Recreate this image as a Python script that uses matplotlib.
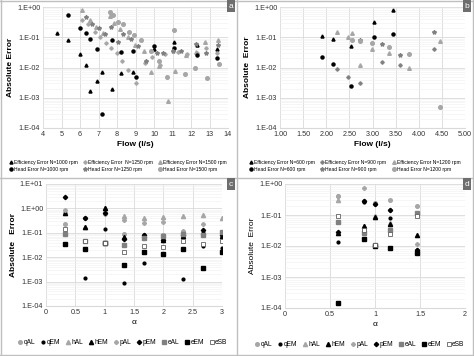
"""Four-panel absolute error scatter charts (log scale)."""

import matplotlib
matplotlib.use("Agg")
import matplotlib.pyplot as plt
import numpy as np
from matplotlib.lines import Line2D
from matplotlib.ticker import FixedLocator, FuncFormatter, NullFormatter

plt.rcParams["font.family"] = ["Liberation Sans", "DejaVu Sans"]

# ---- panel a: flow vs error, N = 1000 / 1250 / 1500 rpm
eff1000_q = [4.75, 5.35, 6.0, 6.3, 6.55, 6.9, 7.2, 7.75, 8.2, 8.85, 10.0, 11.1, 12.3, 13.4]
eff1000_e = [0.14, 0.08, 0.029, 0.012, 0.0017, 0.0035, 0.007, 0.0019, 0.0065, 0.007, 0.04, 0.07, 0.055, 0.04]
head1000_q = [5.35, 6.0, 6.3, 6.55, 6.9, 7.2, 7.75, 8.2, 8.85, 9.05, 10.0, 11.1, 12.3, 13.4]
head1000_e = [0.55, 0.2, 0.14, 0.09, 0.042, 0.0003, 0.08, 0.033, 0.034, 0.005, 0.05, 0.045, 0.025, 0.02]
eff1250_q = [6.1, 6.45, 6.8, 7.1, 7.4, 7.7, 8.0, 8.25, 8.6, 9.05, 9.5, 9.9, 10.3, 10.6, 11.0, 11.3, 11.8, 12.3, 12.8, 13.4]
eff1250_e = [0.37, 0.27, 0.15, 0.1, 0.065, 0.045, 0.03, 0.017, 0.0085, 0.003, 0.014, 0.022, 0.012, 0.028, 0.035, 0.032, 0.027, 0.03, 0.045, 0.03]
eff1500_q = [6.1, 6.55, 6.85, 7.25, 7.6, 7.85, 8.15, 8.6, 8.95, 9.45, 9.85, 10.25, 10.75, 11.15, 11.75, 12.25, 12.75, 13.45]
eff1500_e = [0.8, 0.37, 0.22, 0.14, 0.5, 0.3, 0.19, 0.1, 0.055, 0.035, 0.007, 0.011, 0.0008, 0.0075, 0.026, 0.033, 0.07, 0.08]
head1250_q = [6.35, 6.65, 7.0, 7.35, 7.7, 8.05, 8.3, 8.75, 9.15, 9.55, 10.15, 10.5, 11.0, 11.45, 12.25, 12.8, 13.45]
head1250_e = [0.48, 0.28, 0.2, 0.13, 0.22, 0.07, 0.13, 0.09, 0.05, 0.016, 0.03, 0.03, 0.035, 0.035, 0.06, 0.03, 0.055]
head1500_q = [7.6, 7.8, 8.05, 8.35, 8.65, 8.9, 9.3, 9.85, 10.25, 10.7, 11.1, 11.65, 12.2, 12.85, 13.5]
head1500_e = [0.7, 0.55, 0.33, 0.27, 0.15, 0.12, 0.08, 0.035, 0.016, 0.0047, 0.17, 0.006, 0.0095, 0.0046, 0.013]

# ---- panel b: flow vs error, N = 600 / 900 / 1200 rpm
eff600_q = [1.90, 2.15, 2.54, 3.03, 3.44]
eff600_e = [0.11, 0.088, 0.05, 0.33, 0.8]
head600_q = [1.90, 2.15, 2.54, 3.03, 3.44]
head600_e = [0.022, 0.013, 0.0025, 0.1, 0.13]
eff900_q = [2.24, 2.46, 2.74, 3.21, 3.59, 4.32]
eff900_e = [0.009, 0.005, 0.003, 0.015, 0.012, 0.04]
eff1200_q = [2.24, 2.46, 2.55, 2.74, 2.98, 3.36, 3.79, 4.46]
eff1200_e = [0.15, 0.1, 0.14, 0.012, 0.04, 0.03, 0.01, 0.075]
head900_q = [2.74, 3.21, 3.59, 4.32]
head900_e = [0.08, 0.06, 0.026, 0.15]
head1200_q = [2.55, 2.74, 2.98, 3.36, 3.79, 4.46]
head1200_e = [0.08, 0.075, 0.065, 0.048, 0.028, 0.0005]

# ---- panel c: alpha vs error
alpha_c = [0.33, 0.67, 1.0, 1.33, 1.67, 2.0, 2.33, 2.67, 3.0]
qAL_c = [0.23, 0.40, 0.65, 0.09, 0.085, 0.08, 0.11, 0.09, 0.095]
qEM_c = [0.035, 0.0014, 0.15, 0.00088, 0.006, 0.05, 0.0013, 0.03, 0.024]
hAL_c = [0.75, 0.17, 1.0, 0.47, 0.42, 0.43, 0.47, 0.52, 0.41]
hEM_c = [0.65, 0.17, 1.0, 0.065, 0.085, 0.05, 0.075, 0.11, 0.075]
pAL_c = [0.85, 0.40, 0.60, 0.33, 0.26, 0.28, 0.12, 0.22, 0.10]
pEM_c = [2.8, 0.40, 0.62, 0.055, 0.08, 0.05, 0.08, 0.13, 0.08]
eAL_c = [0.09, 0.045, 0.038, 0.032, 0.06, 0.075, 0.09, 0.08, 0.11]
eEM_c = [0.035, 0.021, 0.037, 0.0047, 0.016, 0.013, 0.022, 0.0037, 0.016]
eSB_c = [0.15, 0.045, 0.037, 0.016, 0.029, 0.027, 0.045, 0.035, 0.046]

# ---- panel d: alpha vs error
alpha_d = [0.59, 0.88, 1.0, 1.17, 1.47]
qAL_d = [0.40, 0.28, 0.24, 0.30, 0.19]
qEM_d = [0.013, 0.27, 0.23, 0.08, 0.0075]
hAL_d = [0.30, 0.045, 0.09, 0.055, 0.12]
hEM_d = [0.026, 0.045, 0.085, 0.05, 0.022]
pAL_d = [0.40, 0.75, 0.24, 0.15, 0.012]
pEM_d = [0.028, 0.28, 0.23, 0.14, 0.0075]
eAL_d = [0.06, 0.027, 0.0105, 0.034, 0.12]
eEM_d = [0.00014, 0.017, 0.0102, 0.0088, 0.0058]
eSB_d = [0.095, 0.033, 0.0105, 0.025, 0.093]

W, H = 474, 356
BLACK = "#000000"
DARK = "#808080"
LIGHT = "#a6a6a6"
GRID = "#d9d9d9"


def px_axes(fig, x0, y0, x1, y1):
    return fig.add_axes([x0 / W, 1 - y1 / H, (x1 - x0) / W, (y1 - y0) / H])


def sci_label(v, _pos):
    return "1.E{:+03d}".format(int(round(np.log10(v))))


def style_axes(ax, xlim, xticks, xfmt, ylo, yhi):
    ax.set_yscale("log")
    ax.set_xlim(*xlim)
    ax.set_ylim(ylo, yhi)
    ax.xaxis.set_major_locator(FixedLocator(xticks))
    ax.xaxis.set_major_formatter(FuncFormatter(xfmt))
    decades = [10.0 ** k for k in range(int(np.log10(ylo)), int(np.log10(yhi)) + 1)]
    ax.yaxis.set_major_locator(FixedLocator(decades))
    ax.yaxis.set_major_formatter(FuncFormatter(sci_label))
    minors = [d * m for d in decades[:-1] for m in range(2, 10)]
    ax.yaxis.set_minor_locator(FixedLocator(minors))
    ax.yaxis.set_minor_formatter(NullFormatter())
    ax.grid(True, which="major", color=GRID, linewidth=0.6)
    ax.grid(True, which="minor", axis="y", color="#f0f0f0", linewidth=0.4)
    ax.set_axisbelow(True)
    for side in ("top", "right", "left"):
        ax.spines[side].set_visible(False)
    ax.spines["bottom"].set_color(GRID)
    ax.tick_params(which="both", length=0, labelsize=5.2, colors="#333333", pad=2)


def panel_tag(fig, x0, y0, letter):
    fig.text(x0 / W, 1 - y0 / H, letter, fontsize=6, color="white", ha="center", va="center",
             bbox=dict(boxstyle="square,pad=0.25", fc="#6e6e6e", ec="none"))


fig = plt.figure(figsize=(W / 100, H / 100), dpi=100)
fig.patch.set_facecolor("white")

# ---------------- panel a
ax = px_axes(fig, 43, 7, 228, 128)
style_axes(ax, (4, 14), list(range(4, 15)), lambda v, p: f"{int(v)}", 1e-4, 1)
ms = 2.2
h = {}
h["e1"] = ax.plot(eff1000_q, eff1000_e, "^", color=BLACK, ms=ms, ls="none", label="Efficiency Error N=1000 rpm")[0]
h["e2"] = ax.plot(eff1250_q, eff1250_e, "P", color=LIGHT, ms=ms, ls="none", label="Efficiency Error  N=1250 rpm")[0]
h["e3"] = ax.plot(eff1500_q, eff1500_e, "^", color=LIGHT, ms=ms + 0.4, ls="none", label="Efficiency Error N=1500 rpm")[0]
h["h1"] = ax.plot(head1000_q, head1000_e, "o", color=BLACK, ms=ms, ls="none", label="Head Error N=1000 rpm")[0]
h["h2"] = ax.plot(head1250_q, head1250_e, "*", color=DARK, ms=ms + 0.8, ls="none", label="Head Error N=1250 rpm")[0]
h["h3"] = ax.plot(head1500_q, head1500_e, "o", color=LIGHT, ms=ms + 0.4, ls="none", label="Head Error N=1500 rpm")[0]
ax.set_xlabel("Flow (l/s)", fontsize=6, fontweight="bold", labelpad=2)
ax.set_ylabel("Absolute Error", fontsize=6, fontweight="bold", labelpad=2)
order = [h["e1"], h["h1"], h["e2"], h["h2"], h["e3"], h["h3"]]
fig.legend(order, [o.get_label() for o in order], ncol=3, loc="center",
           bbox_to_anchor=(118 / W, 1 - 166 / H), fontsize=3.6, frameon=False,
           handlelength=0.6, handletextpad=0.3, columnspacing=1.2, labelspacing=0.5)

# ---------------- panel b
ax = px_axes(fig, 280, 7, 465, 128)
style_axes(ax, (1, 5), [1, 1.5, 2, 2.5, 3, 3.5, 4, 4.5, 5], lambda v, p: f"{v:.2f}", 1e-4, 1)
g = {}
g["e1"] = ax.plot(eff600_q, eff600_e, "^", color=BLACK, ms=ms, ls="none", label="Efficiency Error N=600 rpm")[0]
g["e2"] = ax.plot(eff900_q, eff900_e, "P", color=DARK, ms=ms, ls="none", label="Efficiency Error N=900 rpm")[0]
g["e3"] = ax.plot(eff1200_q, eff1200_e, "^", color=LIGHT, ms=ms + 0.4, ls="none", label="Efficiency Error N=1200 rpm")[0]
g["h1"] = ax.plot(head600_q, head600_e, "o", color=BLACK, ms=ms, ls="none", label="Head Error N=600 rpm")[0]
g["h2"] = ax.plot(head900_q, head900_e, "*", color=DARK, ms=ms + 0.8, ls="none", label="Head Error N=900 rpm")[0]
g["h3"] = ax.plot(head1200_q, head1200_e, "o", color=LIGHT, ms=ms + 0.4, ls="none", label="Head Error N=1200 rpm")[0]
ax.set_xlabel("Flow (l/s)", fontsize=6, fontweight="bold", labelpad=2)
ax.set_ylabel("Absolute  Error", fontsize=6, fontweight="bold", labelpad=2)
order = [g["e1"], g["h1"], g["e2"], g["h2"], g["e3"], g["h3"]]
fig.legend(order, [o.get_label() for o in order], ncol=3, loc="center",
           bbox_to_anchor=(355 / W, 1 - 166 / H), fontsize=3.6, frameon=False,
           handlelength=0.6, handletextpad=0.3, columnspacing=1.2, labelspacing=0.5)


def alpha_series(ax, a, q_al, q_em, h_al, h_em, p_al, p_em, e_al, e_em, e_sb):
    out = []
    out.append(ax.plot(a, q_al, "o", color=LIGHT, ms=2.6, ls="none", label="qAL")[0])
    out.append(ax.plot(a, q_em, "o", color=BLACK, ms=2.0, ls="none", label="qEM")[0])
    out.append(ax.plot(a, h_al, "^", color=LIGHT, ms=3.0, ls="none", label="hAL")[0])
    out.append(ax.plot(a, h_em, "^", color=BLACK, ms=3.0, ls="none", label="hEM")[0])
    out.append(ax.plot(a, p_al, "P", color=LIGHT, ms=2.6, ls="none", label="pAL")[0])
    out.append(ax.plot(a, p_em, "D", color=BLACK, ms=2.2, ls="none", label="pEM")[0])
    out.append(ax.plot(a, e_al, "s", color=DARK, ms=2.6, ls="none", label="eAL")[0])
    out.append(ax.plot(a, e_em, "s", color=BLACK, ms=3.0, ls="none", label="eEM")[0])
    out.append(ax.plot(a, e_sb, "s", mfc="white", mec="#606060", mew=0.6, ms=3.2, ls="none", label="eSB")[0])
    return out


# ---------------- panel c
ax = px_axes(fig, 46, 184, 222, 306)
style_axes(ax, (0, 3), [0, 0.5, 1, 1.5, 2, 2.5, 3], lambda v, p: f"{v:g}", 1e-4, 10)
hc = alpha_series(ax, alpha_c, qAL_c, qEM_c, hAL_c, hEM_c, pAL_c, pEM_c, eAL_c, eEM_c, eSB_c)
ax.set_xlabel("α", fontsize=6, labelpad=2)
ax.set_ylabel("Absolute   Error", fontsize=6, fontweight="bold", labelpad=2)
fig.legend(hc, [o.get_label() for o in hc], ncol=9, loc="center",
           bbox_to_anchor=(123 / W, 1 - 343 / H), fontsize=4.8, frameon=False,
           handlelength=0.5, handletextpad=0.25, columnspacing=0.95)

# ---------------- panel d
ax = px_axes(fig, 285, 184, 465, 308)
style_axes(ax, (0, 2), [0, 0.5, 1, 1.5, 2], lambda v, p: f"{v:g}", 1e-4, 1)
hd = alpha_series(ax, alpha_d, qAL_d, qEM_d, hAL_d, hEM_d, pAL_d, pEM_d, eAL_d, eEM_d, eSB_d)
ax.set_xlabel("α", fontsize=6, labelpad=2)
ax.set_ylabel("Absolute  Error", fontsize=6, labelpad=2)
fig.legend(hd, [o.get_label() for o in hd], ncol=9, loc="center",
           bbox_to_anchor=(360 / W, 1 - 345 / H), fontsize=4.8, frameon=False,
           handlelength=0.5, handletextpad=0.25, columnspacing=0.95)

# panel frames and tags
for coords in ([(1 / W, 1 / W), (0, 1)], [(1 - 1 / W, 1 - 1 / W), (0, 1)],
               [(237 / W, 237 / W), (0, 1)], [(0, 1), (1 - 178 / H, 1 - 178 / H)],
               [(0, 1), (1 / H, 1 / H)], [(0, 1), (1 - 1 / H, 1 - 1 / H)]):
    fig.add_artist(Line2D(coords[0], coords[1], color="#bfbfbf", linewidth=1.0))
panel_tag(fig, 231, 6, "a")
panel_tag(fig, 467, 6, "b")
panel_tag(fig, 231, 184, "c")
panel_tag(fig, 467, 184, "d")

fig.savefig("out.png", dpi=100)
plt.close(fig)
